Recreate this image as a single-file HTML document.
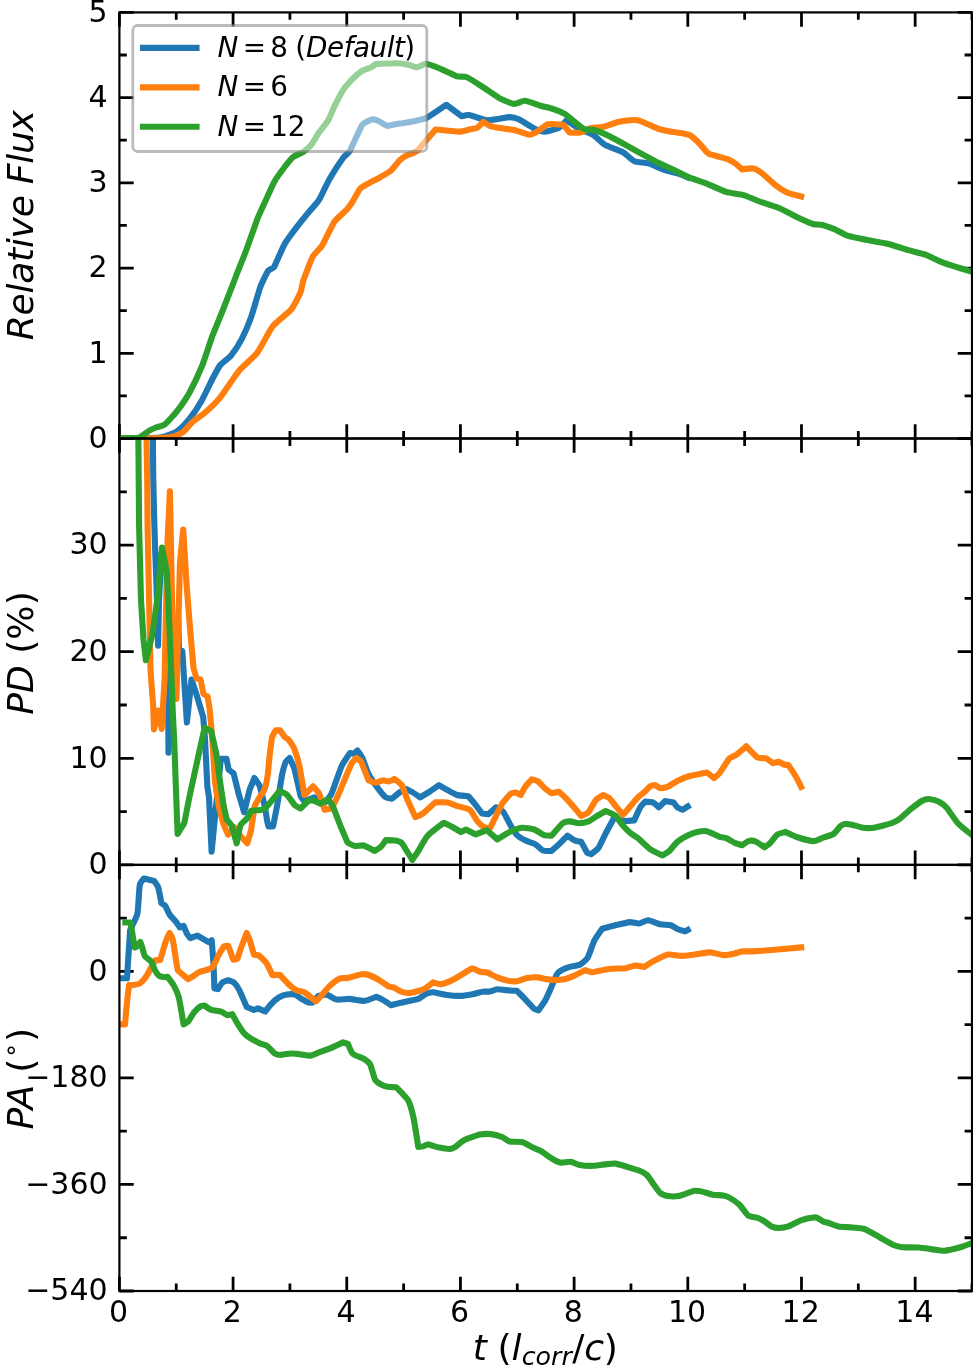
<!DOCTYPE html>
<html lang="en"><head><meta charset="utf-8"><title>Relative Flux, PD and PA versus t</title>
<style>html,body{margin:0;padding:0;background:#fff}body{width:973px;height:1367px;overflow:hidden}svg{display:block}text{font-family:"DejaVu Sans","Liberation Sans",sans-serif;fill:#000}.it{font-style:italic}.tk{font-size:30px}.lg{font-size:27.8px}.lb{font-size:36.1px}.ln{fill:none;stroke-width:6.11;stroke-linejoin:round;stroke-linecap:square}</style></head><body>
<svg width="973" height="1367" viewBox="0 0 973 1367">
<rect x="0" y="0" width="973" height="1367" fill="#ffffff"/>
<defs>
<clipPath id="c0"><rect x="119.4" y="12.4" width="852.6" height="426.1"/></clipPath>
<clipPath id="c1"><rect x="119.4" y="438.5" width="852.6" height="426.4"/></clipPath>
<clipPath id="c2"><rect x="119.4" y="864.9" width="852.6" height="426.1"/></clipPath>
</defs>
<path d="M176.24 12.40v7.40M176.24 438.50v-7.40M289.92 12.40v7.40M289.92 438.50v-7.40M403.60 12.40v7.40M403.60 438.50v-7.40M517.28 12.40v7.40M517.28 438.50v-7.40M630.96 12.40v7.40M630.96 438.50v-7.40M744.64 12.40v7.40M744.64 438.50v-7.40M858.32 12.40v7.40M858.32 438.50v-7.40M972.00 12.40v7.40M972.00 438.50v-7.40M176.24 438.50v7.40M176.24 864.90v-7.40M289.92 438.50v7.40M289.92 864.90v-7.40M403.60 438.50v7.40M403.60 864.90v-7.40M517.28 438.50v7.40M517.28 864.90v-7.40M630.96 438.50v7.40M630.96 864.90v-7.40M744.64 438.50v7.40M744.64 864.90v-7.40M858.32 438.50v7.40M858.32 864.90v-7.40M972.00 438.50v7.40M972.00 864.90v-7.40M176.24 864.90v7.40M176.24 1291.00v-7.40M289.92 864.90v7.40M289.92 1291.00v-7.40M403.60 864.90v7.40M403.60 1291.00v-7.40M517.28 864.90v7.40M517.28 1291.00v-7.40M630.96 864.90v7.40M630.96 1291.00v-7.40M744.64 864.90v7.40M744.64 1291.00v-7.40M858.32 864.90v7.40M858.32 1291.00v-7.40M972.00 864.90v7.40M972.00 1291.00v-7.40M119.40 395.89h7.40M972.00 395.89h-7.40M119.40 310.67h7.40M972.00 310.67h-7.40M119.40 225.45h7.40M972.00 225.45h-7.40M119.40 140.23h7.40M972.00 140.23h-7.40M119.40 55.01h7.40M972.00 55.01h-7.40M119.40 811.60h7.40M972.00 811.60h-7.40M119.40 705.00h7.40M972.00 705.00h-7.40M119.40 598.40h7.40M972.00 598.40h-7.40M119.40 491.80h7.40M972.00 491.80h-7.40M119.40 1237.74h7.40M972.00 1237.74h-7.40M119.40 1131.21h7.40M972.00 1131.21h-7.40M119.40 1024.69h7.40M972.00 1024.69h-7.40M119.40 918.16h7.40M972.00 918.16h-7.40" stroke="#000" stroke-width="2.78" fill="none"/>
<path d="M119.40 12.40v14.30M119.40 438.50v-14.30M233.08 12.40v14.30M233.08 438.50v-14.30M346.76 12.40v14.30M346.76 438.50v-14.30M460.44 12.40v14.30M460.44 438.50v-14.30M574.12 12.40v14.30M574.12 438.50v-14.30M687.80 12.40v14.30M687.80 438.50v-14.30M801.48 12.40v14.30M801.48 438.50v-14.30M915.16 12.40v14.30M915.16 438.50v-14.30M119.40 438.50v14.30M119.40 864.90v-14.30M233.08 438.50v14.30M233.08 864.90v-14.30M346.76 438.50v14.30M346.76 864.90v-14.30M460.44 438.50v14.30M460.44 864.90v-14.30M574.12 438.50v14.30M574.12 864.90v-14.30M687.80 438.50v14.30M687.80 864.90v-14.30M801.48 438.50v14.30M801.48 864.90v-14.30M915.16 438.50v14.30M915.16 864.90v-14.30M119.40 864.90v14.30M119.40 1291.00v-14.30M233.08 864.90v14.30M233.08 1291.00v-14.30M346.76 864.90v14.30M346.76 1291.00v-14.30M460.44 864.90v14.30M460.44 1291.00v-14.30M574.12 864.90v14.30M574.12 1291.00v-14.30M687.80 864.90v14.30M687.80 1291.00v-14.30M801.48 864.90v14.30M801.48 1291.00v-14.30M915.16 864.90v14.30M915.16 1291.00v-14.30M119.40 438.50h14.30M972.00 438.50h-14.30M119.40 353.28h14.30M972.00 353.28h-14.30M119.40 268.06h14.30M972.00 268.06h-14.30M119.40 182.84h14.30M972.00 182.84h-14.30M119.40 97.62h14.30M972.00 97.62h-14.30M119.40 12.40h14.30M972.00 12.40h-14.30M119.40 864.90h14.30M972.00 864.90h-14.30M119.40 758.30h14.30M972.00 758.30h-14.30M119.40 651.70h14.30M972.00 651.70h-14.30M119.40 545.10h14.30M972.00 545.10h-14.30M119.40 438.50h14.30M972.00 438.50h-14.30M119.40 1291.00h14.30M972.00 1291.00h-14.30M119.40 1184.47h14.30M972.00 1184.47h-14.30M119.40 1077.95h14.30M972.00 1077.95h-14.30M119.40 971.42h14.30M972.00 971.42h-14.30M119.40 864.90h14.30M972.00 864.90h-14.30" stroke="#000" stroke-width="2.78" fill="none"/>
<!-- top panel curves -->
<path class="ln" clip-path="url(#c0)" stroke="#1f77b4" d="M119.7 438.4C119.7 438.4 147.5 438.3 150.0 438.2C152.5 438.1 159.2 437.9 161.7 437.3C164.2 436.7 174.0 433.3 177.0 431.3C180.0 429.3 187.0 422.0 189.4 419.0C191.8 416.0 199.4 404.6 201.8 400.4C204.2 396.2 210.9 381.8 212.5 378.8C214.1 375.8 218.4 367.4 220.3 365.0C222.2 362.6 229.1 358.1 231.0 355.7C232.9 353.3 239.8 342.7 241.8 338.8C243.8 334.9 249.4 322.0 251.1 317.2C252.8 312.4 259.0 290.6 260.3 287.0C261.6 283.4 267.1 272.3 268.0 271.0C268.9 269.7 273.4 268.3 274.2 266.9C275.0 265.5 282.7 247.3 285.0 243.4C287.3 239.5 294.7 229.8 297.3 226.4C299.9 223.0 307.7 213.4 309.7 211.0C311.7 208.6 317.3 202.8 318.9 200.2C320.5 197.6 327.1 183.3 329.7 178.8C332.3 174.3 342.5 158.8 343.6 157.3C344.7 155.8 348.9 152.7 349.8 151.1C350.7 149.5 360.8 126.8 362.1 124.9C363.4 123.0 370.1 120.0 371.4 119.6C372.7 119.2 376.3 120.0 377.5 120.5C378.7 121.0 387.0 126.0 387.0 126.0C387.0 126.0 397.7 123.9 400.0 123.5C402.3 123.1 408.5 122.3 410.8 121.8C413.1 121.3 423.2 119.5 426.3 118.0C429.4 116.5 446.3 104.8 446.3 104.8L461.7 116.2C461.7 116.2 467.7 114.7 469.4 115.0C471.1 115.3 483.7 120.0 487.9 120.2C492.1 120.4 507.4 117.2 509.5 117.1C511.6 117.0 516.9 118.4 518.8 119.3C520.7 120.2 532.0 127.5 534.2 128.5C536.4 129.5 542.6 131.7 545.0 131.6C547.4 131.5 556.7 129.0 558.8 127.9C560.9 126.8 566.6 120.2 566.6 120.2C566.6 120.2 577.9 128.1 580.4 129.5C582.9 130.9 590.3 133.2 592.8 134.7C595.3 136.2 602.1 143.2 605.1 144.9C608.1 146.6 621.0 151.1 623.6 152.6C626.2 154.1 631.7 160.0 634.4 161.2C637.1 162.4 645.4 162.6 648.3 163.4C651.2 164.2 660.3 168.4 663.7 169.6C667.1 170.8 678.3 173.6 680.0 174.2C681.7 174.8 687.7 177.4 687.7 177.4"/>
<path class="ln" clip-path="url(#c0)" stroke="#ff7f0e" d="M119.7 438.4C119.7 438.4 157.6 438.1 160.0 438.0C162.4 437.9 168.7 437.6 171.0 437.0C173.3 436.4 181.0 433.5 183.3 431.9C185.6 430.3 190.3 423.9 192.5 422.0C194.7 420.1 202.3 415.0 204.8 412.8C207.3 410.6 217.3 401.0 220.3 397.3C223.3 393.6 235.2 375.5 238.8 371.1C242.4 366.7 253.9 357.1 257.3 352.6C260.7 348.1 269.3 330.7 272.7 326.4C276.1 322.1 288.6 312.7 291.2 309.5C293.8 306.3 299.3 295.1 300.4 292.5C301.5 289.9 302.6 282.6 303.5 280.0C304.4 277.4 311.3 259.2 312.8 256.5C314.3 253.8 320.4 248.3 322.0 245.7C323.6 243.1 332.3 224.9 334.4 221.8C336.5 218.7 345.1 211.4 346.7 209.7C348.3 208.0 351.7 203.0 353.0 201.0C354.3 199.0 358.7 190.0 360.6 188.1C362.5 186.2 369.6 182.9 371.4 181.9C373.2 180.9 378.2 178.4 380.0 177.3C381.8 176.2 388.9 172.3 391.0 170.5C393.1 168.7 398.8 161.1 400.0 160.0C401.2 158.9 404.8 156.5 406.2 155.7C407.6 154.9 415.0 152.6 417.0 151.0C419.0 149.4 424.3 142.6 426.3 140.3C428.3 138.0 435.5 129.5 435.5 129.5C435.5 129.5 448.9 130.8 450.9 131.0C452.9 131.2 458.2 131.8 460.2 131.6C462.2 131.4 467.7 129.9 469.4 129.5C471.1 129.1 475.6 128.7 477.1 127.9C478.6 127.1 483.3 121.8 483.3 121.8C483.3 121.8 489.2 125.8 491.0 126.4C492.8 127.0 500.6 128.1 503.3 128.5C506.0 128.9 513.1 129.8 515.7 130.4C518.3 131.0 527.8 134.6 529.6 134.7C531.4 134.8 535.7 132.5 537.3 131.6C538.9 130.7 545.4 124.9 548.1 124.2C550.8 123.5 563.5 124.8 563.5 124.8L569.6 132.5C569.6 132.5 578.2 132.9 580.4 132.5C582.6 132.1 587.6 129.0 589.7 128.5C591.8 128.0 602.0 127.1 605.1 126.4C608.2 125.7 615.9 122.4 619.0 121.8C622.1 121.2 633.5 119.5 637.5 120.2C641.5 120.9 654.9 127.6 657.5 128.5C660.1 129.4 667.3 131.0 670.0 131.5C672.7 132.0 680.7 132.9 682.5 133.3C684.3 133.7 689.1 134.6 690.6 135.6C692.1 136.6 698.4 142.4 700.2 144.3C702.0 146.2 706.4 152.0 708.2 153.3C710.0 154.6 715.8 155.9 717.9 156.5C720.0 157.1 725.6 158.4 727.5 159.1C729.4 159.8 734.1 162.5 735.6 163.6C737.1 164.7 742.0 169.4 742.0 169.4C742.0 169.4 751.4 168.1 753.3 168.4C755.2 168.7 759.7 171.4 761.3 172.6C762.9 173.8 773.5 183.6 775.8 185.4C778.1 187.2 784.4 191.3 787.0 192.5C789.6 193.7 801.2 196.5 801.2 196.5"/>
<path class="ln" clip-path="url(#c0)" stroke="#2ca02c" d="M119.7 438.3C119.7 438.3 130.3 438.2 132.0 438.1C133.7 438.0 138.4 437.9 140.0 437.2C141.6 436.5 147.9 431.4 149.3 430.6C150.7 429.8 154.5 428.1 156.0 427.5C157.5 426.9 163.2 425.7 164.8 424.5C166.4 423.3 174.6 414.3 177.0 411.2C179.4 408.1 187.1 396.9 189.4 392.7C191.7 388.5 199.4 372.3 201.8 366.5C204.2 360.7 210.3 341.5 212.5 335.7C214.7 329.9 221.0 314.8 223.3 309.0C225.6 303.2 233.4 283.0 235.7 277.0C238.0 271.0 244.3 255.5 246.5 249.5C248.7 243.5 255.5 224.0 257.0 220.0C258.5 216.0 263.2 205.9 265.0 202.0C266.8 198.1 272.2 185.5 274.2 181.9C276.2 178.3 283.4 168.6 285.0 166.5C286.6 164.4 290.7 158.9 292.7 157.3C294.7 155.7 301.7 152.9 303.5 151.7C305.3 150.5 309.8 146.6 311.2 144.9C312.6 143.2 317.1 135.2 318.9 132.6C320.7 130.0 326.5 123.1 328.2 120.3C329.9 117.5 332.9 109.4 334.4 106.4C335.9 103.4 341.9 92.0 343.6 89.4C345.3 86.8 351.1 80.4 352.9 78.6C354.7 76.8 360.3 72.0 362.1 70.9C363.9 69.8 370.3 67.7 371.4 67.2C372.5 66.7 374.8 64.3 376.0 64.1C377.2 63.9 396.2 63.1 398.5 63.2C400.8 63.3 407.2 64.6 409.0 65.0C410.8 65.4 415.2 67.3 417.0 67.2C418.8 67.1 424.2 63.6 426.3 63.8C428.4 64.0 438.4 68.0 441.7 69.3C445.0 70.6 455.2 75.8 457.1 76.4C459.0 77.0 464.4 76.3 466.3 77.0C468.2 77.7 478.5 84.2 481.8 86.3C485.1 88.4 497.5 97.1 500.3 98.6C503.1 100.1 511.7 103.7 514.1 103.9C516.5 104.1 522.5 100.6 524.9 100.8C527.3 101.0 537.6 104.9 540.3 105.7C543.0 106.5 550.1 107.9 552.7 108.8C555.3 109.7 562.6 112.4 565.0 114.0C567.4 115.6 581.1 127.5 583.5 128.8C585.9 130.1 593.2 129.6 595.8 130.4C598.4 131.2 610.4 136.7 614.3 138.7C618.2 140.7 638.2 152.0 642.1 154.1C646.0 156.2 656.6 161.9 660.0 163.6C663.4 165.3 673.3 169.7 676.1 171.0C678.9 172.3 686.0 176.2 688.9 177.4C691.8 178.6 701.6 181.6 705.0 182.9C708.4 184.2 722.2 190.7 725.9 191.9C729.6 193.1 740.0 194.1 743.6 195.1C747.2 196.1 756.2 200.2 759.7 201.5C763.2 202.8 775.0 206.3 779.0 208.0C783.0 209.7 793.3 215.4 796.7 217.0C800.1 218.6 810.8 223.4 812.8 224.0C814.8 224.6 820.4 224.5 822.4 225.0C824.4 225.5 831.3 227.9 833.7 228.9C836.1 229.9 843.7 234.2 846.6 235.3C849.5 236.4 857.9 238.1 861.0 238.8C864.1 239.5 883.8 242.9 888.4 244.0C893.0 245.1 905.8 249.4 909.3 250.4C912.8 251.4 922.0 253.4 925.4 254.6C928.8 255.8 939.1 261.1 943.0 262.6C946.9 264.1 971.4 271.6 971.4 271.6"/>
<!-- middle panel curves -->
<path class="ln" clip-path="url(#c1)" stroke="#1f77b4" d="M152.8 430.0L153.3 480.0L154.4 526.6L155.2 551.7L156.4 582.0L157.6 623.1L158.1 645.7L159.0 600.0L161.5 553.0L166.0 551.0L167.6 600.0L168.0 670.0L168.3 717.0L168.5 752.7L172.0 690.0L175.5 640.0L178.3 620.0L179.0 649.0L182.3 651.0L186.9 722.5L191.5 679.5L196.2 693.6L203.2 717.0L204.9 737.3L207.4 787.1L209.0 797.0L211.6 851.6L215.5 811.9L220.5 762.2L221.5 758.8L226.5 758.8L228.6 769.6L233.6 773.4L238.5 793.3L244.1 812.2L249.7 789.5L254.4 778.0L259.7 785.8C259.7 785.8 263.9 802.5 264.6 805.7C265.3 808.9 266.9 819.3 267.1 820.6C267.3 821.9 268.5 826.5 268.5 826.5L273.0 826.5C273.0 826.5 276.3 810.2 277.1 805.7C277.9 801.2 281.5 777.5 282.1 774.6C282.7 771.7 285.4 762.7 285.9 761.7C286.4 760.7 289.6 758.0 289.6 758.0C289.6 758.0 293.8 766.6 294.5 769.1C295.2 771.6 300.3 794.9 300.7 796.2C301.1 797.5 304.4 801.1 304.4 801.1L314.3 797.4L324.1 803.6C324.1 803.6 330.4 796.1 331.5 793.7C332.6 791.3 340.0 769.8 341.4 766.6C342.8 763.4 350.0 753.0 350.0 753.0L353.7 753.8L357.4 750.6C357.4 750.6 361.6 756.3 362.4 758.0C363.2 759.7 366.8 770.7 368.5 774.0C370.2 777.3 376.9 786.8 378.4 788.8C379.9 790.8 384.7 796.6 385.8 797.4C386.9 798.2 392.0 798.7 392.0 798.7C392.0 798.7 398.2 793.4 399.4 792.5C400.6 791.6 405.5 788.8 405.5 788.8C405.5 788.8 411.4 791.6 412.9 792.5C414.4 793.4 420.3 797.4 420.3 797.4C420.3 797.4 428.3 792.6 430.2 791.3C432.1 790.0 438.8 785.1 438.8 785.1C438.8 785.1 445.6 789.0 447.5 790.0C449.4 791.0 455.0 794.3 457.3 795.0C459.6 795.7 468.4 796.2 468.4 796.2C468.4 796.2 473.3 802.0 474.6 803.6C475.9 805.2 482.0 813.5 482.0 813.5L488.4 814.3L496.0 807.3C496.0 807.3 502.2 810.7 503.4 812.2C504.6 813.7 509.6 823.7 510.8 825.8C512.0 827.9 515.4 833.6 517.0 835.2C518.6 836.8 523.6 839.6 525.6 840.6C527.6 841.6 533.7 843.3 535.5 844.3C537.3 845.3 541.2 849.8 542.9 850.5C544.6 851.2 551.5 851.0 551.5 851.0C551.5 851.0 557.3 845.8 558.9 844.3C560.5 842.8 567.6 835.7 567.6 835.7C567.6 835.7 573.8 840.0 575.0 840.6C576.2 841.2 581.1 841.8 581.1 841.8L587.3 852.9L591.0 854.2C591.0 854.2 597.2 849.7 598.4 848.0C599.6 846.3 604.1 836.4 605.8 833.2C607.5 830.0 614.4 817.2 614.4 817.2C614.4 817.2 621.1 820.6 623.1 820.9C625.1 821.2 634.2 820.4 634.2 820.4C634.2 820.4 639.5 808.7 640.3 807.3C641.1 805.9 645.3 801.6 645.3 801.6C645.3 801.6 651.2 801.8 652.7 802.4C654.2 803.0 658.8 807.3 658.8 807.3L665.0 801.1L673.6 802.4C673.6 802.4 676.4 806.5 677.3 807.3C678.2 808.1 682.3 809.8 682.3 809.8L687.7 806.5"/>
<path class="ln" clip-path="url(#c1)" stroke="#ff7f0e" d="M146.4 430.0L147.2 480.0L147.6 526.6L149.1 600.0L150.5 670.0L153.1 705.0L154.0 729.4L158.1 710.5L161.7 728.9L164.6 679.0L165.8 620.0L166.5 582.0L167.5 541.5L169.9 491.2L173.2 659.0L176.4 699.0L180.0 562.0L183.2 529.5L186.6 585.0L190.0 628.0L193.5 668.0L196.5 678.5L200.5 679.5L203.5 694.0L207.5 696.4L209.5 708.0L211.3 727.0L213.0 750.0L214.9 780.8L218.6 805.7L223.6 824.4L228.0 834.6L234.2 827.2L240.5 836.0L247.2 843.3L251.0 830.6L254.7 805.7L259.7 797.0C259.7 797.0 263.9 791.3 264.6 789.5C265.3 787.7 267.3 777.9 267.8 774.6C268.3 771.3 269.1 760.0 269.6 756.0C270.1 752.0 271.7 739.0 272.1 737.3C272.5 735.6 275.8 730.2 275.8 730.2L280.0 730.2C280.0 730.2 284.1 736.3 284.7 737.0C285.3 737.7 287.8 738.7 288.4 739.5C289.0 740.3 293.6 747.0 294.5 749.3C295.4 751.6 298.7 762.8 299.5 766.6C300.3 770.4 304.4 795.0 304.4 795.0C304.4 795.0 307.3 792.1 308.1 791.3C308.9 790.5 313.0 786.3 313.0 786.3C313.0 786.3 318.3 791.8 319.2 793.7C320.1 795.6 324.6 809.8 324.6 809.8L331.5 808.5C331.5 808.5 336.5 798.9 337.7 796.2C338.9 793.5 342.5 784.6 343.9 781.4C345.3 778.2 350.5 765.6 351.3 764.1C352.1 762.6 356.2 758.0 356.2 758.0C356.2 758.0 360.5 760.5 361.1 761.7C361.7 762.9 368.5 780.2 368.5 780.2C368.5 780.2 374.3 782.6 375.9 782.6C377.5 782.6 382.2 780.3 383.3 780.2C384.4 780.1 387.2 781.5 388.3 781.4C389.4 781.3 394.4 778.9 394.4 778.9C394.4 778.9 400.7 783.3 401.8 785.1C402.9 786.9 406.5 797.7 408.0 801.1C409.5 804.5 415.4 817.2 415.4 817.2C415.4 817.2 421.4 814.6 422.8 813.5C424.2 812.4 435.1 802.4 435.1 802.4C435.1 802.4 445.3 802.0 447.5 802.4C449.7 802.8 455.1 805.4 457.3 806.1C459.5 806.8 467.6 808.2 469.7 809.8C471.8 811.4 475.9 819.4 477.1 820.9C478.3 822.4 482.5 826.3 483.7 827.0C484.9 827.7 489.9 828.3 489.9 828.3C489.9 828.3 494.7 818.6 496.0 815.9C497.3 813.2 500.6 806.0 502.2 803.6C503.8 801.2 509.9 794.4 510.8 793.7C511.7 793.0 515.8 792.5 515.8 792.5L520.7 795.0C520.7 795.0 524.4 787.9 525.6 786.3C526.8 784.7 531.8 779.4 531.8 779.4C531.8 779.4 536.8 780.6 538.0 781.4C539.2 782.2 544.2 787.7 545.4 788.8C546.6 789.9 551.5 793.2 551.5 793.2L558.9 791.8C558.9 791.8 564.8 797.1 566.3 798.7C567.8 800.3 573.6 806.9 575.0 808.5C576.4 810.1 581.1 815.9 581.1 815.9C581.1 815.9 587.3 813.5 588.5 812.2C589.7 810.9 594.6 801.4 595.9 799.9C597.2 798.4 603.3 795.0 603.3 795.0C603.3 795.0 608.4 797.2 609.5 798.2C610.6 799.2 614.3 804.4 615.7 806.1C617.1 807.8 623.1 814.7 623.1 814.7C623.1 814.7 628.9 808.0 630.5 806.1C632.1 804.2 636.4 798.9 637.9 797.4C639.4 795.9 644.2 792.3 645.3 791.3C646.4 790.3 649.3 786.9 650.2 786.3C651.1 785.7 655.1 785.1 655.1 785.1L660.1 788.3C660.1 788.3 666.0 787.4 667.5 786.8C669.0 786.2 675.1 782.0 677.3 780.9C679.5 779.8 687.6 776.6 689.7 776.0C691.8 775.4 697.9 774.3 699.5 774.0C701.1 773.7 707.0 772.5 707.0 772.5L714.0 778.2C714.0 778.2 718.6 774.3 719.6 773.0C720.6 771.7 728.3 759.7 729.5 758.4C730.7 757.1 735.1 755.7 736.5 754.7C737.9 753.7 746.3 746.3 746.3 746.3C746.3 746.3 755.9 756.5 757.5 757.5C759.1 758.5 764.2 757.8 765.9 758.4C767.6 759.0 773.0 763.1 773.0 763.1L778.6 761.7C778.6 761.7 783.3 764.2 784.2 764.5C785.1 764.8 788.4 765.1 788.4 765.1C788.4 765.1 794.0 773.4 795.4 775.8C796.8 778.2 801.2 787.0 801.2 787.0"/>
<path class="ln" clip-path="url(#c1)" stroke="#2ca02c" d="M138.3 430.0L139.1 526.6L141.0 600.0L143.5 640.0L145.9 660.3L152.3 635.0L157.3 600.0L158.8 582.4L162.0 547.5L166.7 572.0L167.2 582.4L168.3 600.0L171.2 670.0L173.0 717.0L174.2 740.0L175.9 787.5L177.6 834.0L184.3 823.2L189.3 797.5L199.7 749.7L204.7 727.7L211.2 731.1L216.8 756.0L219.9 780.8L223.6 805.7L226.7 819.4L231.7 825.6L234.8 836.8L236.7 843.3L239.1 830.6C239.1 830.6 240.2 825.6 241.0 824.4C241.8 823.2 246.1 819.6 247.2 818.1C248.3 816.6 251.0 810.7 251.0 810.7C251.0 810.7 261.6 810.1 263.4 809.4C265.2 808.7 268.4 804.6 269.6 803.2C270.8 801.8 279.6 790.8 279.6 790.8C279.6 790.8 285.7 793.7 287.1 795.0C288.5 796.3 293.4 803.7 294.5 804.8C295.6 805.9 300.7 808.5 300.7 808.5C300.7 808.5 307.2 801.7 308.1 801.1C309.0 800.5 312.0 800.4 313.0 800.6C314.0 800.8 320.4 803.6 320.4 803.6L327.8 799.2C327.8 799.2 332.0 804.4 332.8 806.1C333.6 807.8 340.1 825.2 341.4 828.3C342.7 831.4 347.6 842.6 347.6 842.6C347.6 842.6 353.3 845.7 355.0 846.0C356.7 846.3 361.8 845.0 363.6 845.5C365.4 846.0 374.7 851.0 374.7 851.0C374.7 851.0 379.7 847.9 380.9 846.8C382.1 845.7 385.8 840.1 385.8 840.1C385.8 840.1 394.3 840.3 395.7 840.6C397.1 840.9 400.8 842.1 401.8 843.1C402.8 844.1 407.0 851.4 408.0 852.9C409.0 854.4 412.4 859.8 412.4 859.8C412.4 859.8 416.8 853.5 417.9 851.7C419.0 849.9 425.0 838.7 427.7 835.7C430.4 832.7 443.8 822.8 443.8 822.8C443.8 822.8 450.6 826.0 452.4 827.0C454.2 828.0 461.0 832.0 461.0 832.0L466.0 829.5L475.8 834.4L486.9 830.2L497.3 839.4C497.3 839.4 507.1 833.2 509.6 832.0C512.1 830.8 519.2 828.1 521.9 827.8C524.6 827.5 532.0 828.7 534.3 829.5C536.6 830.3 542.6 834.7 544.1 835.2C545.6 835.7 551.5 835.7 551.5 835.7C551.5 835.7 561.3 824.3 562.6 823.3C563.9 822.3 568.3 821.4 570.0 821.4C571.7 821.4 576.8 823.3 578.7 823.3C580.6 823.3 586.5 822.2 588.5 821.4C590.5 820.6 595.4 817.0 597.2 815.9C599.0 814.8 605.8 811.0 605.8 811.0C605.8 811.0 613.9 814.3 615.7 815.9C617.5 817.5 621.6 824.1 623.1 825.8C624.6 827.5 629.0 832.0 630.5 833.2C632.0 834.4 636.4 836.9 637.9 838.1C639.4 839.3 647.8 847.5 650.2 849.2C652.6 850.9 662.5 855.4 662.5 855.4C662.5 855.4 668.5 851.8 669.9 850.5C671.3 849.2 675.4 843.4 677.3 841.8C679.2 840.2 685.1 836.7 687.2 835.7C689.3 834.7 695.0 832.5 697.1 832.0C699.2 831.5 704.8 830.7 706.9 831.2C709.0 831.7 718.1 836.4 719.6 836.9C721.1 837.4 725.2 837.7 726.7 838.3C728.2 838.9 733.7 842.4 735.1 843.1C736.5 843.8 742.1 845.3 742.1 845.3C742.1 845.3 747.6 841.3 749.1 840.9C750.6 840.5 754.7 841.1 756.1 841.7C757.5 842.3 764.5 847.3 764.5 847.3C764.5 847.3 769.0 844.2 770.1 843.1C771.2 842.0 775.6 835.8 777.2 834.7C778.8 833.6 785.6 831.9 785.6 831.9C785.6 831.9 795.4 836.6 798.2 837.5C801.0 838.4 811.3 841.1 813.6 841.1C815.9 841.1 821.4 838.3 823.5 837.5C825.6 836.7 831.5 835.3 833.3 834.1C835.1 832.9 839.5 827.0 840.3 826.3C841.1 825.6 843.5 824.1 844.5 824.0C845.5 823.9 851.1 824.5 852.9 824.9C854.7 825.3 860.5 827.4 862.7 827.7C864.9 828.0 871.6 828.1 874.0 827.7C876.4 827.3 888.9 824.2 890.8 823.5C892.7 822.8 897.5 820.4 899.2 819.2C900.9 818.0 908.0 811.3 910.4 809.4C912.8 807.5 920.3 801.8 921.7 801.0C923.1 800.2 927.1 798.9 928.7 799.0C930.3 799.1 936.5 800.6 938.5 801.6C940.5 802.6 945.4 806.3 946.9 808.0C948.4 809.7 955.5 820.7 958.1 823.5C960.7 826.3 971.6 834.7 971.6 834.7"/>
<!-- bottom panel curves -->
<path class="ln" clip-path="url(#c2)" stroke="#1f77b4" d="M119.7 978.3L127.0 978.3C127.0 978.3 129.8 933.1 130.1 930.7C130.4 928.3 134.0 922.0 134.7 920.5C135.4 919.0 137.2 914.9 137.5 913.3C137.8 911.7 138.4 902.9 138.6 900.0C138.8 897.1 139.4 886.3 139.8 884.7C140.2 883.1 143.9 878.5 143.9 878.5L154.2 881.0C154.2 881.0 157.8 886.1 158.3 887.7C158.8 889.3 161.4 903.2 161.4 903.2C161.4 903.2 164.9 905.3 165.5 906.2C166.1 907.1 168.5 912.8 169.6 914.5C170.7 916.2 174.9 920.5 175.8 921.7C176.7 922.9 179.9 927.4 179.9 927.4L183.6 925.8C183.6 925.8 186.6 933.0 187.1 934.0C187.6 935.0 190.2 938.1 190.2 938.1L197.4 935.6L208.7 942.2L211.7 940.2C211.7 940.2 213.1 957.9 213.4 962.8C213.7 967.7 214.4 988.5 214.4 988.5L217.9 989.1C217.9 989.1 220.9 983.9 222.0 982.9C223.1 981.9 228.2 980.2 228.2 980.2C228.2 980.2 233.3 981.9 234.4 982.9C235.5 983.9 238.6 988.7 239.5 990.5C240.4 992.3 246.7 1007.0 246.7 1007.0L253.9 1010.0L258.0 1008.4L265.2 1011.5C265.2 1011.5 270.0 1005.4 271.4 1003.9C272.8 1002.4 276.9 998.7 278.5 997.7C280.1 996.7 285.1 994.9 286.8 994.6C288.5 994.3 293.5 994.2 295.0 994.6C296.5 995.0 299.9 997.9 301.2 998.7C302.5 999.5 306.3 1001.7 307.3 1002.1C308.3 1002.5 312.2 1002.8 312.2 1002.8L318.4 995.9C318.4 995.9 325.2 994.3 327.0 994.7C328.8 995.1 334.5 999.2 336.9 999.6C339.3 1000.0 346.5 998.8 349.2 998.9C351.9 999.0 361.2 1001.1 364.0 1000.9C366.8 1000.7 376.3 996.7 376.3 996.7C376.3 996.7 381.2 998.9 382.5 999.6C383.8 1000.3 391.1 1005.3 391.1 1005.3C391.1 1005.3 398.8 1003.3 401.0 1002.8C403.2 1002.3 416.5 999.5 418.3 998.9C420.1 998.3 424.2 994.7 425.7 994.0C427.2 993.3 431.5 992.1 433.1 992.2C434.7 992.3 442.7 994.3 445.4 994.7C448.1 995.1 457.5 995.9 460.2 995.9C462.9 995.9 470.3 994.6 472.5 994.2C474.7 993.8 480.8 991.9 482.4 991.7C484.0 991.5 488.2 991.8 489.8 991.5C491.4 991.2 495.5 989.4 497.2 989.3C498.9 989.2 507.9 990.4 509.5 990.5C511.1 990.6 516.9 990.8 516.9 990.8C516.9 990.8 524.0 998.0 525.8 999.8C527.6 1001.6 532.9 1007.8 533.7 1008.5C534.5 1009.2 538.4 1010.4 538.4 1010.4C538.4 1010.4 544.3 1002.2 545.6 999.8C546.9 997.4 551.0 987.9 552.1 985.3C553.2 982.7 556.4 974.9 557.4 973.5C558.4 972.1 562.4 969.8 564.0 969.0C565.6 968.2 570.2 966.8 571.9 966.4C573.6 966.0 578.3 965.6 579.8 964.8C581.3 964.0 586.5 959.7 587.7 957.7C588.9 955.7 592.9 943.4 594.3 940.6C595.7 937.8 602.2 928.7 602.2 928.7C602.2 928.7 612.4 926.0 615.3 925.3C618.2 924.6 627.8 922.3 629.8 922.1C631.8 921.9 637.0 923.7 639.0 923.5C641.0 923.3 646.2 920.2 648.3 920.3C650.4 920.4 657.8 923.7 660.1 924.2C662.4 924.7 668.8 924.8 670.7 925.3C672.6 925.8 677.2 928.9 678.6 929.5C680.0 930.1 685.1 931.4 685.1 931.4L687.7 930.0"/>
<path class="ln" clip-path="url(#c2)" stroke="#ff7f0e" d="M119.7 1024.4L125.0 1024.4C125.0 1024.4 126.6 1006.2 127.0 1002.4C127.4 998.6 129.1 985.0 129.1 985.0C129.1 985.0 131.9 985.1 132.7 985.0C133.5 984.9 138.5 984.3 139.8 983.5C141.1 982.7 144.9 978.4 146.0 976.8C147.1 975.2 150.2 969.2 151.1 967.6C152.0 966.0 155.2 960.4 155.2 960.4L160.3 959.9C160.3 959.9 164.8 944.3 165.5 942.2C166.2 940.1 169.6 933.0 169.6 933.0C169.6 933.0 172.4 937.7 172.7 939.1C173.0 940.5 175.4 956.2 175.8 958.7C176.2 961.2 177.2 968.6 177.8 970.0C178.4 971.4 181.9 973.7 183.0 974.7C184.1 975.7 188.1 979.2 188.1 979.2C188.1 979.2 192.1 976.8 193.2 976.1C194.3 975.4 197.9 972.7 199.4 972.0C200.9 971.3 205.2 970.5 206.6 970.0C208.0 969.5 211.9 968.1 212.8 966.9C213.7 965.7 217.9 956.5 218.9 954.6C219.9 952.7 224.1 946.3 224.1 946.3L228.2 945.9L233.3 959.7L237.4 958.7C237.4 958.7 240.6 949.0 241.6 946.3C242.6 943.6 246.7 933.0 246.7 933.0C246.7 933.0 249.3 938.6 249.8 940.2C250.3 941.8 253.9 954.6 253.9 954.6C253.9 954.6 258.1 955.0 259.0 955.6C259.9 956.2 265.0 961.0 266.2 962.8C267.4 964.6 272.4 975.1 272.4 975.1L279.6 974.7C279.6 974.7 287.2 982.9 288.8 984.4C290.4 985.9 295.8 989.9 297.0 990.5C298.2 991.1 302.0 991.3 303.2 991.8C304.4 992.3 307.0 994.2 308.0 995.0C309.0 995.8 315.9 1001.4 315.9 1001.4C315.9 1001.4 320.8 996.2 322.1 994.7C323.4 993.2 327.7 987.8 329.5 986.1C331.3 984.4 337.6 979.5 339.3 978.7C341.0 977.9 346.1 978.3 348.0 977.9C349.9 977.5 359.9 974.4 361.5 974.2C363.1 974.0 367.4 974.5 368.9 975.0C370.4 975.5 376.7 978.7 378.8 979.9C380.9 981.1 387.7 986.1 388.7 986.6C389.7 987.1 392.6 986.9 393.6 987.3C394.6 987.7 399.5 990.9 401.0 991.5C402.5 992.1 406.8 993.0 408.4 993.0C410.0 993.0 416.6 991.5 418.3 991.0C420.0 990.5 424.2 988.9 425.7 988.0C427.2 987.1 433.1 982.4 433.1 982.4C433.1 982.4 438.9 984.2 440.5 984.1C442.1 984.0 448.3 982.0 450.3 981.1C452.3 980.2 458.1 977.0 460.2 975.7C462.3 974.4 469.4 969.7 470.1 969.3C470.8 968.9 473.0 968.6 473.8 968.8C474.6 969.0 478.5 971.4 479.9 971.8C481.3 972.2 485.8 972.0 487.3 972.5C488.8 973.0 495.1 976.5 497.2 977.4C499.3 978.3 505.0 980.2 507.1 980.6C509.2 981.0 514.8 981.5 516.9 981.2C519.0 980.9 524.8 978.4 527.1 978.0C529.4 977.6 535.4 977.2 537.7 977.4C540.0 977.6 546.9 979.4 549.5 979.6C552.1 979.8 560.3 980.0 562.7 979.6C565.1 979.2 571.0 977.0 573.2 976.1C575.4 975.2 585.1 970.1 585.1 970.1C585.1 970.1 591.2 972.3 593.0 972.2C594.8 972.1 605.3 969.4 608.8 969.0C612.3 968.6 623.8 968.5 625.9 968.2C628.0 967.9 633.1 965.7 635.1 965.6C637.1 965.5 644.3 966.9 644.3 966.9C644.3 966.9 651.4 962.2 653.5 961.1C655.6 960.0 665.2 955.0 668.0 954.5C670.8 954.0 678.3 955.9 681.2 955.9C684.1 955.9 691.5 954.8 694.4 954.5C697.3 954.2 707.3 952.3 710.2 952.4C713.1 952.5 721.0 955.0 723.3 955.1C725.6 955.2 732.0 954.1 733.9 953.7C735.8 953.3 740.6 951.6 742.5 951.4C744.4 951.2 750.1 951.5 752.2 951.4C754.3 951.3 767.5 950.3 771.7 950.0C775.9 949.7 801.2 947.4 801.2 947.4"/>
<path class="ln" clip-path="url(#c2)" stroke="#2ca02c" d="M125.4 922.5L130.6 922.5C130.6 922.5 132.3 933.2 132.7 935.8C133.1 938.4 134.7 947.6 134.7 947.6C134.7 947.6 136.4 946.9 136.7 946.6C137.0 946.3 140.3 942.0 140.3 942.0C140.3 942.0 142.0 946.8 142.4 948.1C142.8 949.4 144.0 954.8 144.9 956.3C145.8 957.8 150.1 960.1 151.1 961.5C152.1 962.9 154.5 969.5 155.2 970.7C155.9 971.9 158.2 975.1 159.3 975.8C160.4 976.5 164.4 977.2 165.0 977.3C165.6 977.4 167.6 976.8 167.6 976.8C167.6 976.8 172.6 983.4 173.7 985.4C174.8 987.4 178.2 994.9 178.9 997.7C179.6 1000.5 183.6 1024.4 183.6 1024.4C183.6 1024.4 187.3 1022.3 188.1 1021.4C188.9 1020.5 193.2 1013.5 194.3 1012.1C195.4 1010.7 199.6 1006.9 200.4 1006.4C201.2 1005.9 204.6 1005.5 204.6 1005.5C204.6 1005.5 209.2 1009.0 210.7 1009.6C212.2 1010.2 219.5 1011.2 221.0 1011.7C222.5 1012.2 227.2 1015.2 227.2 1015.2L232.3 1014.2C232.3 1014.2 236.2 1021.5 237.4 1023.4C238.6 1025.3 242.5 1031.4 243.6 1032.7C244.7 1034.0 248.3 1036.9 249.8 1037.8C251.3 1038.7 258.6 1042.7 260.1 1043.4C261.6 1044.1 265.8 1045.1 267.2 1046.0C268.6 1046.9 273.2 1052.4 274.4 1053.2C275.6 1054.0 279.2 1054.9 280.6 1054.9C282.0 1054.9 289.5 1053.6 290.9 1053.5C292.3 1053.4 296.0 1053.8 297.4 1053.9C298.8 1054.0 309.0 1055.8 311.0 1055.6C313.0 1055.4 317.7 1052.9 319.6 1052.2C321.5 1051.5 329.4 1048.7 331.9 1047.7C334.4 1046.7 343.0 1042.3 343.0 1042.3L348.0 1044.0C348.0 1044.0 351.2 1052.3 352.9 1053.9C354.6 1055.5 362.4 1057.8 364.0 1058.8C365.6 1059.8 369.3 1062.9 370.2 1064.5C371.1 1066.1 374.3 1078.3 375.1 1079.8C375.9 1081.3 380.1 1084.0 381.3 1084.7C382.5 1085.4 386.0 1086.5 387.4 1086.7C388.8 1086.9 396.1 1087.2 396.1 1087.2C396.1 1087.2 400.9 1092.0 402.2 1093.4C403.5 1094.8 407.5 1098.9 408.4 1100.8C409.3 1102.7 412.5 1113.3 413.3 1116.8C414.1 1120.3 418.3 1146.9 418.3 1146.9C418.3 1146.9 422.2 1146.7 423.2 1146.4C424.2 1146.1 427.0 1144.3 428.1 1144.4C429.2 1144.5 436.8 1147.1 439.2 1147.6C441.6 1148.1 449.1 1149.0 450.3 1148.9C451.5 1148.8 454.3 1147.5 455.3 1146.9C456.3 1146.3 461.8 1141.3 463.9 1140.2C466.0 1139.1 477.6 1135.1 479.9 1134.6C482.2 1134.1 488.6 1133.8 491.0 1134.1C493.4 1134.4 500.4 1136.3 502.1 1137.0C503.8 1137.7 507.7 1141.0 509.5 1141.5C511.3 1142.0 519.4 1141.4 521.9 1142.0C524.4 1142.6 530.7 1146.5 532.4 1147.3C534.1 1148.1 538.7 1149.8 540.3 1150.7C541.9 1151.6 548.9 1156.7 550.8 1157.9C552.7 1159.1 557.9 1162.2 560.0 1162.6C562.1 1163.0 568.5 1161.5 570.6 1161.8C572.7 1162.1 577.7 1164.6 579.8 1165.0C581.9 1165.4 592.0 1165.9 594.3 1165.8C596.6 1165.7 602.5 1164.6 604.8 1164.4C607.1 1164.2 613.0 1163.4 615.3 1163.6C617.6 1163.8 623.6 1165.8 625.9 1166.5C628.2 1167.2 637.2 1169.8 639.0 1170.5C640.8 1171.2 645.5 1173.6 646.9 1175.0C648.3 1176.4 652.1 1182.3 653.5 1184.2C654.9 1186.1 658.7 1191.7 660.1 1192.9C661.5 1194.1 666.2 1195.7 668.0 1196.0C669.8 1196.3 676.3 1196.4 678.6 1196.0C680.9 1195.6 692.7 1191.1 694.4 1190.8C696.1 1190.5 700.6 1191.2 702.3 1191.6C704.0 1192.0 710.6 1194.3 712.8 1194.7C715.0 1195.1 721.8 1195.2 723.3 1195.5C724.8 1195.8 728.7 1197.2 730.0 1198.0C731.3 1198.8 737.8 1203.2 739.7 1205.0C741.6 1206.8 746.3 1214.2 748.1 1215.5C749.9 1216.8 756.2 1217.4 757.8 1218.0C759.4 1218.6 763.3 1220.7 764.8 1221.6C766.3 1222.5 770.3 1226.0 771.7 1226.6C773.1 1227.2 777.2 1228.0 778.7 1228.0C780.2 1228.0 786.4 1227.1 788.4 1226.4C790.4 1225.7 798.3 1221.2 800.9 1220.3C803.5 1219.4 812.5 1217.6 813.4 1217.5C814.3 1217.4 816.8 1217.6 817.6 1218.0C818.4 1218.4 822.3 1221.2 823.1 1221.6C823.9 1222.0 826.4 1222.2 827.3 1222.5C828.2 1222.8 835.9 1225.9 838.4 1226.4C840.9 1226.9 849.6 1227.2 852.3 1227.5C855.0 1227.8 862.2 1228.2 864.8 1229.1C867.4 1230.0 877.1 1235.8 880.1 1237.5C883.1 1239.2 892.3 1244.6 894.0 1245.3C895.7 1246.0 900.5 1247.0 902.4 1247.2C904.3 1247.4 916.0 1247.3 919.0 1247.5C922.0 1247.7 930.5 1249.1 932.9 1249.4C935.3 1249.7 941.7 1251.0 944.1 1250.8C946.5 1250.6 956.6 1248.3 959.4 1247.5C962.2 1246.7 971.9 1243.0 971.9 1243.0"/>
<rect x="119.4" y="12.4" width="852.6" height="426.1" fill="none" stroke="#000" stroke-width="2.2"/>
<rect x="119.4" y="438.5" width="852.6" height="426.4" fill="none" stroke="#000" stroke-width="2.2"/>
<rect x="119.4" y="864.9" width="852.6" height="426.1" fill="none" stroke="#000" stroke-width="2.2"/>
<text class="tk" x="107.6" y="447.8" text-anchor="end">0</text>
<text class="tk" x="107.6" y="362.6" text-anchor="end">1</text>
<text class="tk" x="107.6" y="277.4" text-anchor="end">2</text>
<text class="tk" x="107.6" y="192.1" text-anchor="end">3</text>
<text class="tk" x="107.6" y="106.9" text-anchor="end">4</text>
<text class="tk" x="107.6" y="21.7" text-anchor="end">5</text>
<text class="tk" x="107.6" y="874.2" text-anchor="end">0</text>
<text class="tk" x="107.6" y="767.6" text-anchor="end">10</text>
<text class="tk" x="107.6" y="661.0" text-anchor="end">20</text>
<text class="tk" x="107.6" y="554.4" text-anchor="end">30</text>
<text class="tk" x="107.6" y="1300.3" text-anchor="end">−540</text>
<text class="tk" x="107.6" y="1193.8" text-anchor="end">−360</text>
<text class="tk" x="107.6" y="1087.2" text-anchor="end">−180</text>
<text class="tk" x="107.6" y="980.7" text-anchor="end">0</text>
<text class="tk" x="118.6" y="1322.1" text-anchor="middle">0</text>
<text class="tk" x="232.3" y="1322.1" text-anchor="middle">2</text>
<text class="tk" x="346.0" y="1322.1" text-anchor="middle">4</text>
<text class="tk" x="459.6" y="1322.1" text-anchor="middle">6</text>
<text class="tk" x="573.3" y="1322.1" text-anchor="middle">8</text>
<text class="tk" x="687.0" y="1322.1" text-anchor="middle">10</text>
<text class="tk" x="800.7" y="1322.1" text-anchor="middle">12</text>
<text class="tk" x="914.4" y="1322.1" text-anchor="middle">14</text>
<text class="lb it" transform="translate(33.3 225.3) rotate(-90)" text-anchor="middle" letter-spacing="-0.3">Relative Flux</text>
<text class="lb" transform="translate(33.3 653) rotate(-90)" text-anchor="middle"><tspan class="it">PD</tspan> (%)</text>
<text class="lb" transform="translate(33.3 1129.5) rotate(-90)"><tspan class="it" x="0">PA</tspan><tspan x="56.7">(</tspan><tspan font-size="25.3px" x="72.7" dy="-7.6">°</tspan><tspan x="87.4" dy="7.6">)</tspan></text>
<text class="lb" y="1360.2"><tspan class="it" x="472.8">t</tspan><tspan x="497.5">(</tspan><tspan class="it" x="511.4">l</tspan><tspan class="it" font-size="25.3px" x="521.7" dy="5">corr</tspan><tspan x="572.2" dy="-5">/</tspan><tspan class="it" x="584.2">c</tspan><tspan x="603.8">)</tspan></text>
<rect x="132.8" y="25.5" width="294" height="126" rx="4.7" ry="4.7" fill="#fff" fill-opacity="0.5" stroke="#777" stroke-opacity="0.5" stroke-width="2.78"/>
<path d="M143 47.9H196.5" stroke="#1f77b4" stroke-width="6.11" stroke-linecap="square" fill="none"/>
<path d="M143 87.4H196.5" stroke="#ff7f0e" stroke-width="6.11" stroke-linecap="square" fill="none"/>
<path d="M143 126.7H196.5" stroke="#2ca02c" stroke-width="6.11" stroke-linecap="square" fill="none"/>
<text class="lg" y="56.8"><tspan class="it" x="217.45">N</tspan><tspan x="242.75">=</tspan><tspan x="270.15">8</tspan><tspan x="295.15">(</tspan><tspan class="it" x="306.05" letter-spacing="-0.45">Default</tspan><tspan x="404.2">)</tspan></text>
<text class="lg" y="96.4"><tspan class="it" x="217.45">N</tspan><tspan x="242.75">=</tspan><tspan x="270.15">6</tspan></text>
<text class="lg" y="135.5"><tspan class="it" x="217.45">N</tspan><tspan x="242.75">=</tspan><tspan x="270.15">12</tspan></text>
</svg></body></html>
